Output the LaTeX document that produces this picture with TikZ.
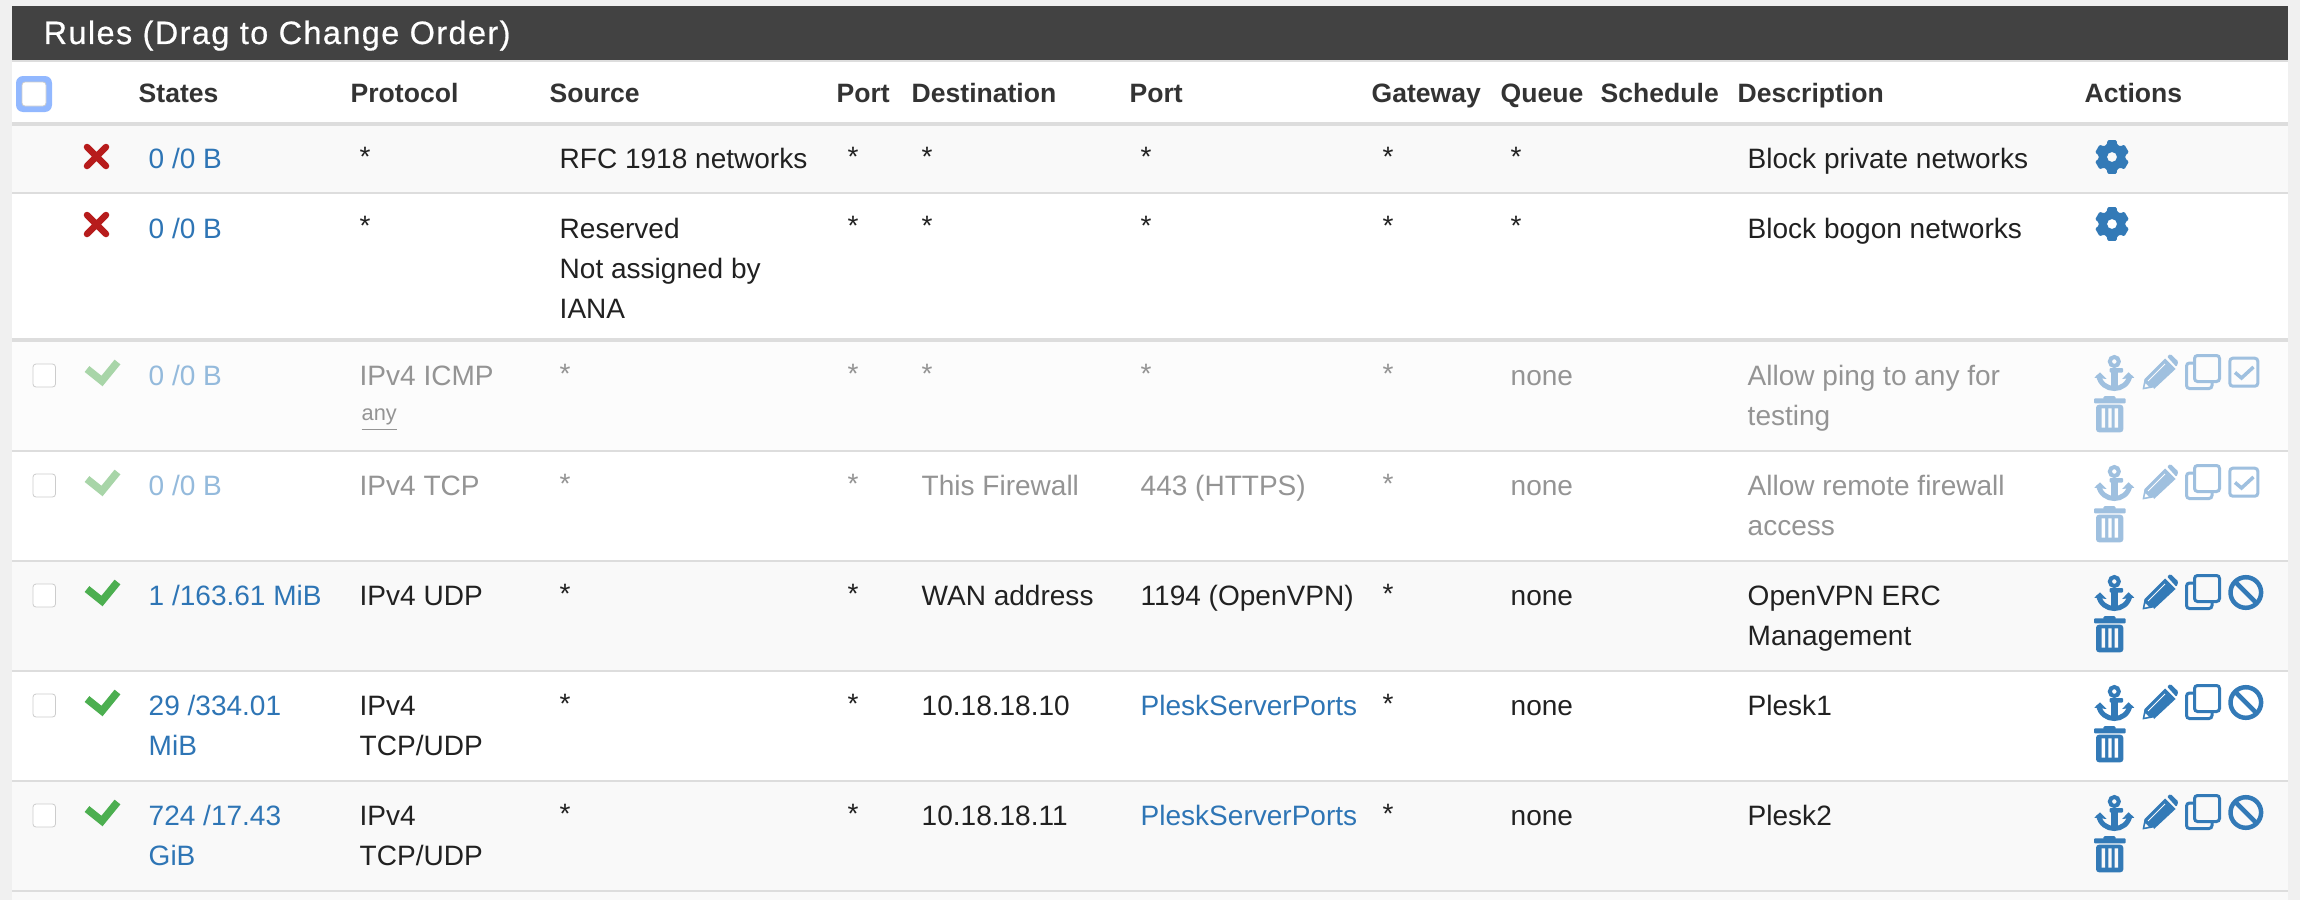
\documentclass[tikz,border=0pt]{standalone}
\usepackage{fontspec}
\setmainfont{Liberation Sans}
\newfontface\titlefont[LetterSpace=4.5,FakeBold=0.6]{Liberation Sans}
\definecolor{PageGray}{HTML}{F0F0F0}
\definecolor{BarDark}{HTML}{424242}
\definecolor{LineGray}{HTML}{DDDDDD}
\definecolor{RowGray}{HTML}{F9F9F9}
\definecolor{RowPale}{HTML}{FCFCFC}
\definecolor{BodyText}{HTML}{212121}
\definecolor{HeadText}{HTML}{333333}
\definecolor{DimText}{HTML}{949494}
\definecolor{LinkBlue}{HTML}{2E75B5}
\definecolor{DimLink}{HTML}{94BADC}
\definecolor{IconBlue}{HTML}{337AB7}
\definecolor{IconFade}{HTML}{9FC0DF}
\definecolor{TickGreen}{HTML}{4CAF50}
\definecolor{TickFade}{HTML}{A8D5A8}
\definecolor{CrossRed}{HTML}{B71C1C}
\definecolor{FocusBlue}{HTML}{92B8FF}
\definecolor{BoxGray}{HTML}{CCCCCC}
\tikzset{
  crossicon/.pic={
    \draw[CrossRed,line width=0.065cm,line cap=round] (3,3) -- (22,22) (22,3) -- (3,22);},
  gearicon/.pic={
    \fill[IconBlue,even odd rule,rounded corners=0.012cm] (75:17.5)
      \foreach \a in {90,150,...,390}{ -- (\a-15:17.5) -- (\a+15:17.5) -- (\a+22:13.5) -- (\a+38:13.5)} -- cycle
      (0,0) circle (5);},
  anchoricon/.pic={
    \draw[\col,line width=0.04cm] (20.3,19.5) circle (4.5);
    \fill[\col] (17,26) rectangle (23.5,47);
    \fill[\col,rounded corners=0.01cm] (15.5,26) rectangle (29,30.5);
    \draw[\col,line width=0.05cm] (4.5,33) .. controls (6,42) and (13,46.5) .. (20.3,46.5) .. controls (27.5,46.5) and (34.5,42) .. (36,33);
    \fill[\col] (0.3,35.7) -- (6,30.3) -- (12.7,37) -- cycle;
    \fill[\col] (40.3,35.7) -- (34.6,30.3) -- (28,37) -- cycle;},
  pencilicon/.pic={
    \fill[\col] (48.5,47.5) -- (50.5,37) -- (71,16.5) -- (81.5,27) -- (60,47) -- (59.5,45.5) -- cycle;
    \fill[\col,rounded corners=0.012cm] (73,14.5) -- (76.5,12) -- (84.3,19.5) -- (82.5,25) -- cycle;
    \draw[\bg,line width=0.01cm] (54,39) -- (71,22);
    \fill[\bg] (50.5,45.5) -- (51.5,41.5) -- (54.5,44.5) -- cycle;},
  copyicon/.pic={
    \draw[\col,line width=0.03cm,rounded corners=0.03cm] (92.5,21) rectangle (118,46.5);
    \draw[\col,fill=\bg,line width=0.03cm,rounded corners=0.03cm] (100.5,13.5) rectangle (125.5,39.5);},
  checkicon/.pic={
    \draw[\col,line width=0.03cm,rounded corners=0.03cm] (135.8,16.2) rectangle (163.8,44.2);
    \draw[\col,line width=0.035cm] (141,30.5) -- (147.5,36) -- (159.5,25);},
  banicon/.pic={
    \draw[\col,line width=0.045cm] (151.8,30.5) circle (15.3);
    \draw[\col,line width=0.045cm] (141,19.7) -- (162.6,41.3);},
  trashicon/.pic={
    \fill[\col,rounded corners=0.01cm] (0,56.3) rectangle (31.7,61.3);
    \fill[\col,rounded corners=0.015cm] (9.3,54) rectangle (21.7,58);
    \fill[\col,rounded corners=0.03cm] (2,62.7) rectangle (29.3,90.3);
    \fill[\bg] (7.7,66.3) rectangle (11,85.7) (14.3,66.3) rectangle (17.6,85.7) (20.7,66.3) rectangle (24,85.7);}
}
\begin{document}
\begin{tikzpicture}[x=0.01cm,y=-0.01cm,
    cell/.style={anchor=base west,inner sep=0pt,font=\fontsize{7.97}{9.6}\selectfont,text=BodyText},
    head/.style={cell,font=\fontsize{7.55}{9.6}\selectfont\bfseries,text=HeadText},
    linkcell/.style={cell,text=LinkBlue},
    dimcell/.style={cell,text=DimText},
    dimlink/.style={cell,text=DimLink},
    rowbox/.style={draw=BoxGray,fill=white,line width=0.008cm,rounded corners=0.03cm}]

  \useasboundingbox (0,0) rectangle (2300,900);
  \fill[PageGray] (0,0) rectangle (2300,900);
  \fill[white] (12,6) rectangle (2288,900);

  % rows
  \foreach \ya/\yb/\c in {126/192/RowGray,342/450/RowPale,562/670/RowGray,782/890/RowGray,892/900/RowGray}{
    \fill[\c] (12,\ya) rectangle (2288,\yb);
  }
  \foreach \ya/\yb in {60/62,122/126,192/194,338/342,450/452,560/562,670/672,780/782,890/892}{
    \fill[LineGray] (12,\ya) rectangle (2288,\yb);
  }
  \fill[BarDark] (12,6) rectangle (2288,60);
  \node[anchor=base west,inner sep=0pt,text=white,font=\fontsize{9.2}{11}\titlefont] (title) at (43,44) {Rules (Drag to Change Order)};

  % header
  \fill[FocusBlue,rounded corners=0.07cm] (16,76) rectangle (52,112);
  \fill[rowbox] (22,82) rectangle (46,106);
  \node[head] (hstates) at (138,102) {States};
  \node[head] (hproto) at (350,102) {Protocol};
  \node[head] (hsrc) at (549,102) {Source};
  \node[head] (hport) at (836,102) {Port};
  \node[head] (hdest) at (911,102) {Destination};
  \node[head] (hportb) at (1129,102) {Port};
  \node[head] (hgw) at (1371,102) {Gateway};
  \node[head] (hqueue) at (1500,102) {Queue};
  \node[head] (hsched) at (1600,102) {Schedule};
  \node[head] (hdesc) at (1737,102) {Description};
  \node[head] (hact) at (2084,102) {Actions};

  % row 1
  \pic at (84,144) {crossicon};
  \pic at (2112,157) {gearicon};
  \node[linkcell] (sta) at (148,168) {0 /0 B};
  \node[cell] (proa) at (359,166) {*};
  \node[cell] (srca) at (559,168) {RFC 1918 networks};
  \node[cell] (pora) at (847,166) {*};
  \node[cell] (desa) at (921,166) {*};
  \node[cell] (dpoa) at (1140,166) {*};
  \node[cell] (gwa) at (1382,166) {*};
  \node[cell] (qua) at (1510,166) {*};
  \node[cell] (dsca) at (1747,168) {Block private networks};

  % row 2
  \pic at (84,212) {crossicon};
  \pic at (2112,224) {gearicon};
  \node[linkcell] (stb) at (148,238) {0 /0 B};
  \node[cell] (prob) at (359,235) {*};
  \node[cell] (srcb) at (559,238) {Reserved};
  \node[cell] (srcbb) at (559,278) {Not assigned by};
  \node[cell] (srcbc) at (559,318) {IANA};
  \node[cell] (porb) at (847,235) {*};
  \node[cell] (desb) at (921,235) {*};
  \node[cell] (dpob) at (1140,235) {*};
  \node[cell] (gwb) at (1382,235) {*};
  \node[cell] (qub) at (1510,235) {*};
  \node[cell] (dscb) at (1747,238) {Block bogon networks};

  % row 3
  \node[dimlink] (stc) at (148,385) {0 /0 B};
  \node[dimcell] (proc) at (359,385) {IPv4 ICMP};
  \node[dimcell,font=\fontsize{6.2}{8}\selectfont] (proca) at (361,420) {\underline{any}};
  \node[dimcell] (srcc) at (559,383) {*};
  \node[dimcell] (porc) at (847,383) {*};
  \node[dimcell] (desc) at (921,383) {*};
  \node[dimcell] (dpoc) at (1140,383) {*};
  \node[dimcell] (gwc) at (1382,383) {*};
  \node[dimcell] (quc) at (1510,385) {none};
  \node[dimcell] (dscc) at (1747,385) {Allow ping to any for};
  \node[dimcell] (dsccb) at (1747,425) {testing};

  % row 4
  \node[dimlink] (std) at (148,495) {0 /0 B};
  \node[dimcell] (prod) at (359,495) {IPv4 TCP};
  \node[dimcell] (srcd) at (559,493) {*};
  \node[dimcell] (pord) at (847,493) {*};
  \node[dimcell] (desd) at (921,495) {This Firewall};
  \node[dimcell] (dpod) at (1140,495) {443 (HTTPS)};
  \node[dimcell] (gwd) at (1382,493) {*};
  \node[dimcell] (qud) at (1510,495) {none};
  \node[dimcell] (dscd) at (1747,495) {Allow remote firewall};
  \node[dimcell] (dscdb) at (1747,535) {access};

  % row 5
  \node[linkcell] (ste) at (148,605) {1 /163.61 MiB};
  \node[cell] (proe) at (359,605) {IPv4 UDP};
  \node[cell] (srce) at (559,603) {*};
  \node[cell] (pore) at (847,603) {*};
  \node[cell] (dese) at (921,605) {WAN address};
  \node[cell] (dpoe) at (1140,605) {1194 (OpenVPN)};
  \node[cell] (gwe) at (1382,603) {*};
  \node[cell] (que) at (1510,605) {none};
  \node[cell] (dsce) at (1747,605) {OpenVPN ERC};
  \node[cell] (dsceb) at (1747,645) {Management};

  % row 6
  \node[linkcell] (stf) at (148,715) {29 /334.01};
  \node[linkcell] (stfb) at (148,755) {MiB};
  \node[cell] (prof) at (359,715) {IPv4};
  \node[cell] (profb) at (359,755) {TCP/UDP};
  \node[cell] (srcf) at (559,713) {*};
  \node[cell] (porf) at (847,713) {*};
  \node[cell] (desf) at (921,715) {10.18.18.10};
  \node[linkcell] (dpof) at (1140,715) {PleskServerPorts};
  \node[cell] (gwf) at (1382,713) {*};
  \node[cell] (quf) at (1510,715) {none};
  \node[cell] (dscf) at (1747,715) {Plesk1};

  % row 7
  \node[linkcell] (stg) at (148,825) {724 /17.43};
  \node[linkcell] (stgb) at (148,865) {GiB};
  \node[cell] (prog) at (359,825) {IPv4};
  \node[cell] (progb) at (359,865) {TCP/UDP};
  \node[cell] (srcg) at (559,823) {*};
  \node[cell] (porg) at (847,823) {*};
  \node[cell] (desg) at (921,825) {10.18.18.11};
  \node[linkcell] (dpog) at (1140,825) {PleskServerPorts};
  \node[cell] (gwg) at (1382,823) {*};
  \node[cell] (qug) at (1510,825) {none};
  \node[cell] (dscg) at (1747,825) {Plesk2};

  % boxes and action icons
  \foreach \y/\col/\bg/\tick in {342/IconFade/RowPale/TickFade,452/IconFade/white/TickFade,
      562/IconBlue/RowGray/TickGreen,672/IconBlue/white/TickGreen,782/IconBlue/RowGray/TickGreen}{
    \draw[rowbox] (33,\y+22) rectangle (55.5,\y+45);
    \begin{scope}[shift={(84,\y+17)}]
      \draw[\tick,line width=0.075cm,line join=miter] (3,10) -- (18,22) -- (33.5,3);
    \end{scope}
    \pic at (2094,\y) {anchoricon};
    \pic at (2094,\y) {pencilicon};
    \pic at (2094,\y) {copyicon};
    \pic at (2094,\y) {trashicon};
  }
  \foreach \y/\col/\bg in {342/IconFade/RowPale,452/IconFade/white}{
    \pic at (2094,\y) {checkicon};
  }
  \foreach \y/\col/\bg in {562/IconBlue/RowGray,672/IconBlue/white,782/IconBlue/RowGray}{
    \pic at (2094,\y) {banicon};
  }
\end{tikzpicture}
\end{document}
